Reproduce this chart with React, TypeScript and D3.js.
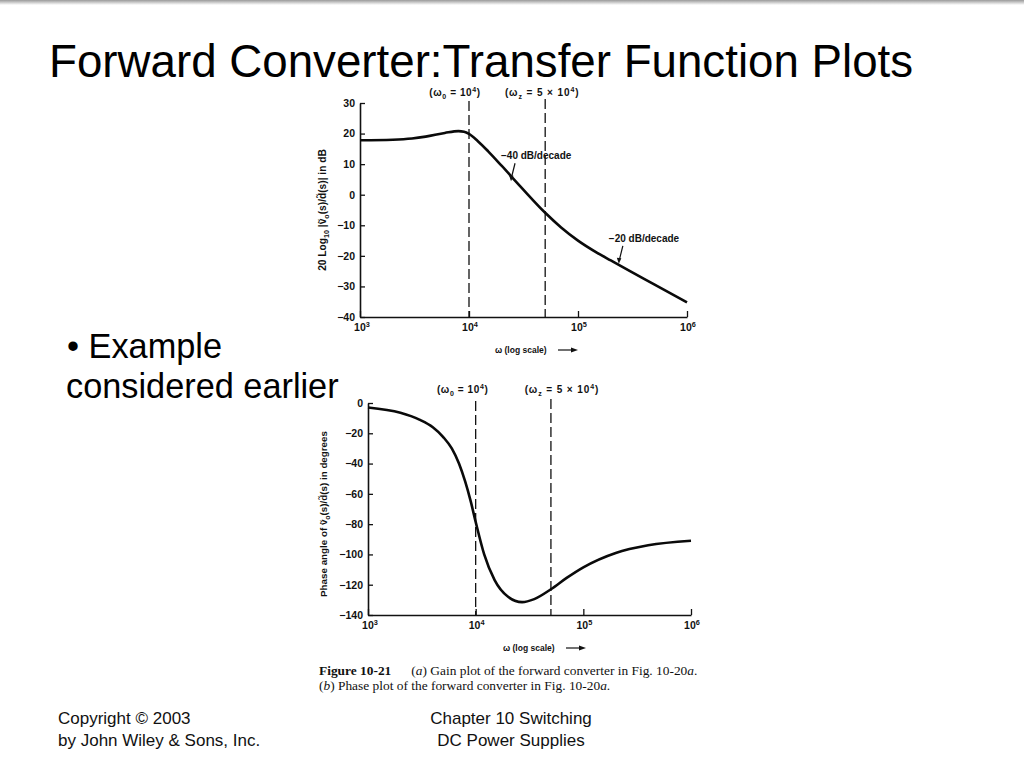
import { useEffect, useRef } from 'react';
import * as d3 from 'd3';

// Gain plot (a)
const GAIN_FREQ = [1e3, 2e3, 3e3, 4e3, 6e3, 8e3, 9e3, 1e4, 1.2e4, 1.5e4, 2e4, 3e4, 5e4, 7e4, 1e5, 1.5e5, 2e5, 3e5, 5e5, 1e6];
const GAIN_DB = [17.8, 18.0, 18.4, 19.0, 20.2, 20.8, 20.6, 19.9, 17.6, 14.2, 9.4, 2.5, -5.9, -10.7, -15.0, -19.0, -21.5, -25.0, -29.3, -35.2];

// Phase plot (b)
const PHASE_FREQ = [1e3, 2e3, 3e3, 4e3, 5e3, 6e3, 7e3, 8e3, 9e3, 1e4, 1.2e4, 1.5e4, 2e4, 2.7e4, 3.5e4, 5e4, 7e4, 1e5, 2e5, 4e5, 1e6];
const PHASE_DEG = [-3, -6.5, -11, -16, -22.5, -30, -40, -52, -65, -78.5, -100, -117, -128, -131.5, -129.5, -123, -115.5, -108.5, -99, -94, -91];

const GAIN_TICKS = [30, 20, 10, 0, -10, -20, -30, -40];
const PHASE_TICKS = [0, -20, -40, -60, -80, -100, -120, -140];
const DECADES = [1e3, 1e4, 1e5, 1e6];
const DECADE_EXP = ['3', '4', '5', '6'];

const OMEGA_0 = 1e4;
const OMEGA_Z = 5e4;

const SLOPE_LABELS = ['\u221240 dB/decade', '\u221220 dB/decade'];
const SLOPE_FREQ = [2.43e4, 2.37e5];
const SLOPE_DB = [4.4, -22.6];

type Part = [string, ('sub' | 'sup' | 'it' | 'b')?];

const FONT = 'Liberation Sans, Arial, sans-serif';
const SERIF = 'Liberation Serif, Times New Roman, serif';

// append tspans with sub/superscripts
const rich = (text: d3.Selection<SVGTextElement, unknown, null, undefined>, parts: Part[], size: number) => {
  let shift = 0;
  parts.forEach(([t, kind]) => {
    const ts = text.append('tspan').text(t);
    let target = 0;
    if (kind === 'sub') target = size * 0.3;
    if (kind === 'sup') target = -size * 0.4;
    if (target !== shift) ts.attr('dy', target - shift);
    shift = target;
    if (kind === 'sub' || kind === 'sup') ts.attr('font-size', size * 0.7);
    if (kind === 'it') ts.attr('font-style', 'italic');
    if (kind === 'b') ts.attr('font-weight', 'bold');
  });
};

const minus = (d: number) => (d < 0 ? `\u2212${-d}` : `${d}`);

const App = () => {
  const svgRef = useRef<SVGSVGElement>(null);

  useEffect(() => {
    if (!svgRef.current) return;
    const svg = d3.select(svgRef.current);
    svg.selectAll('*').remove();

    const width = 1024;
    const height = 759;
    svg.attr('width', width).attr('height', height);

    svg.append('rect').attr('width', width).attr('height', height).attr('fill', '#fff');

    // thin grey shadow at the top edge
    const grad = svg.append('defs').append('linearGradient').attr('id', 'topShade').attr('x1', 0).attr('x2', 0).attr('y1', 0).attr('y2', 1);
    grad.append('stop').attr('offset', '0%').attr('stop-color', '#9a9a9a');
    grad.append('stop').attr('offset', '100%').attr('stop-color', '#ffffff');
    svg.append('rect').attr('width', width).attr('height', 5).attr('fill', 'url(#topShade)');

    // slide title
    svg
      .append('text')
      .attr('x', 49)
      .attr('y', 77)
      .attr('font-family', FONT)
      .attr('font-size', 45.7)
      .attr('fill', '#000')
      .text('Forward Converter:Transfer Function Plots');

    // bullet
    svg.append('text').attr('x', 67).attr('y', 358).attr('font-family', FONT).attr('font-size', 34.3).text('\u2022 Example');
    svg.append('text').attr('x', 66).attr('y', 398).attr('font-family', FONT).attr('font-size', 34.3).text('considered earlier');

    // footer
    const foot = [
      { x: 58, anchor: 'start', lines: ['Copyright \u00a9 2003', 'by John Wiley & Sons, Inc.'] },
      { x: 511, anchor: 'middle', lines: ['Chapter 10 Switching', 'DC Power Supplies'] },
    ];
    foot.forEach((f) =>
      f.lines.forEach((l, i) =>
        svg
          .append('text')
          .attr('x', f.x)
          .attr('y', 724 + i * 22)
          .attr('text-anchor', f.anchor)
          .attr('font-family', FONT)
          .attr('font-size', 17)
          .attr('fill', '#111')
          .text(l),
      ),
    );

    type PanelOpts = {
      xRange: [number, number];
      yRange: [number, number];
      yDomain: [number, number];
      yTicks: number[];
      freq: number[];
      vals: number[];
      markerLabelY: number;
      markerTop: [number, number];
      labelShift: [number, number];
      yLabel: Part[];
      yLabelSize: number;
      yLabelX: number;
      yLabelY: number;
      xLabelX: number;
      xLabelY: number;
      xTickY: number;
    };

    const drawPanel = (o: PanelOpts) => {
      const x = d3.scaleLog().domain([1e3, 1e6]).range(o.xRange);
      const y = d3.scaleLinear().domain(o.yDomain).range(o.yRange);
      const g = svg.append('g').attr('font-family', FONT).attr('font-weight', 'bold').attr('fill', '#111');

      // y axis, ticks pointing inward
      const yAxis = g
        .append('g')
        .attr('transform', `translate(${o.xRange[0]},0)`)
        .call(d3.axisLeft(y).tickValues(o.yTicks).tickSizeInner(-5).tickSizeOuter(0).tickPadding(5).tickFormat((d) => minus(d as number)));
      yAxis.select('.domain').attr('stroke', '#111').attr('stroke-width', 1.6);
      yAxis.selectAll('.tick line').attr('stroke', '#111').attr('stroke-width', 1.3);
      yAxis.selectAll('text').attr('font-family', FONT).attr('font-size', 10.5).attr('font-weight', 'bold').attr('fill', '#111');

      // x axis, decade ticks pointing up
      const xAxis = g
        .append('g')
        .attr('transform', `translate(0,${o.yRange[0]})`)
        .call(d3.axisBottom(x).tickValues(DECADES).tickSizeInner(-6).tickSizeOuter(0).tickFormat(() => ''));
      xAxis.select('.domain').attr('stroke', '#111').attr('stroke-width', 1.6);
      xAxis.selectAll('.tick line').attr('stroke', '#111').attr('stroke-width', 1.3);

      DECADES.forEach((d, i) => {
        const t = g
          .append('text')
          .attr('x', x(d) + (i === 0 ? 2 : 1))
          .attr('y', o.xTickY)
          .attr('text-anchor', 'middle')
          .attr('font-size', 10.5);
        rich(t, [['10'], [DECADE_EXP[i], 'sup']], 10.5);
      });

      // dashed markers at ω0 and ωz
      [OMEGA_0, OMEGA_Z].forEach((w, i) => {
        g.append('line')
          .attr('x1', x(w))
          .attr('x2', x(w))
          .attr('y1', o.markerTop[i])
          .attr('y2', o.yRange[0])
          .attr('stroke', '#111')
          .attr('stroke-width', 1.3)
          .attr('stroke-dasharray', '10,4');
      });

      const m0 = g
        .append('text')
        .attr('x', x(OMEGA_0) + o.labelShift[0])
        .attr('y', o.markerLabelY)
        .attr('text-anchor', 'middle')
        .attr('font-size', 10)
        .attr('letter-spacing', 0.6);
      rich(m0, [['(\u03c9'], ['0', 'sub'], [' = 10'], ['4', 'sup'], [')']], 10);
      const mz = g
        .append('text')
        .attr('x', x(OMEGA_Z) + o.labelShift[1])
        .attr('y', o.markerLabelY)
        .attr('text-anchor', 'middle')
        .attr('font-size', 10)
        .attr('letter-spacing', 0.9);
      rich(mz, [['(\u03c9'], ['z', 'sub'], [' = 5 \u00d7 10'], ['4', 'sup'], [')']], 10);

      // the curve
      const line = d3
        .line<number>()
        .x((_, i) => x(o.freq[i]))
        .y((v) => y(v))
        .curve(d3.curveMonotoneX);
      g.append('path').attr('d', line(o.vals)).attr('fill', 'none').attr('stroke', '#0a0a0a').attr('stroke-width', 2.6);

      // axis titles
      const yl = g
        .append('text')
        .attr('transform', `translate(${o.yLabelX},${o.yLabelY}) rotate(-90)`)
        .attr('text-anchor', 'middle')
        .attr('font-size', o.yLabelSize);
      rich(yl, o.yLabel, o.yLabelSize);

      g.append('text')
        .attr('x', o.xLabelX)
        .attr('y', o.xLabelY)
        .attr('font-size', 8.5)
        .text('\u03c9  (log scale)');
      const ax = o.xLabelX + 63;
      g.append('line')
        .attr('x1', ax)
        .attr('x2', ax + 16)
        .attr('y1', o.xLabelY - 3)
        .attr('y2', o.xLabelY - 3)
        .attr('stroke', '#111')
        .attr('stroke-width', 1.2);
      g.append('path')
        .attr('d', `M${ax + 20},${o.xLabelY - 3} L${ax + 13},${o.xLabelY - 5.5} L${ax + 13},${o.xLabelY - 0.5} Z`)
        .attr('fill', '#111');

      return { x, y, g };
    };

    const top = drawPanel({
      xRange: [360, 687],
      yRange: [317, 103],
      yDomain: [-40, 30],
      yTicks: GAIN_TICKS,
      freq: GAIN_FREQ,
      vals: GAIN_DB,
      markerLabelY: 96,
      markerTop: [101, 99],
      labelShift: [-14, -3],
      yLabel: [['20 Log'], ['10', 'sub'], [' |v\u0303'], ['o', 'sub'], ['(s)/d\u0303(s)| in dB']],
      yLabelSize: 10.2,
      yLabelX: 326,
      yLabelY: 210,
      xLabelX: 495,
      xLabelY: 353,
      xTickY: 331,
    });

    // slope annotations with leader arrows
    SLOPE_LABELS.forEach((lab, i) => {
      const px = top.x(SLOPE_FREQ[i]);
      const py = top.y(SLOPE_DB[i]);
      const sx = px + 4;
      const sy = py - 18;
      top.g
        .append('text')
        .attr('x', px - 10)
        .attr('y', py - 22)
        .attr('font-size', 10)
        .text(lab);
      top.g.append('line').attr('x1', sx).attr('y1', sy).attr('x2', px + 0.5).attr('y2', py - 4).attr('stroke', '#111').attr('stroke-width', 1.2);
      top.g
        .append('path')
        .attr('d', `M${px},${py} L${px - 2},${py - 6} L${px + 2.5},${py - 5.5} Z`)
        .attr('fill', '#111');
    });

    drawPanel({
      xRange: [368, 691],
      yRange: [615, 403],
      yDomain: [-140, 0],
      yTicks: PHASE_TICKS,
      freq: PHASE_FREQ,
      vals: PHASE_DEG,
      markerLabelY: 393,
      markerTop: [401, 399],
      labelShift: [-13, 11],
      yLabel: [['Phase angle of v\u0303'], ['o', 'sub'], ['(s)/d\u0303(s) in degrees']],
      yLabelSize: 9.8,
      yLabelX: 327,
      yLabelY: 514,
      xLabelX: 503,
      xLabelY: 651,
      xTickY: 629,
    });

    // figure caption
    const capSize = 13.4;
    const c1 = svg.append('text').attr('x', 319).attr('y', 675).attr('font-family', SERIF).attr('font-size', capSize).attr('fill', '#111');
    rich(
      c1,
      [['Figure 10-21', 'b'], ['\u2003\u2002('], ['a', 'it'], [') Gain plot of the forward converter in Fig. 10-20'], ['a', 'it'], ['.']],
      capSize,
    );
    const c2 = svg.append('text').attr('x', 319).attr('y', 690).attr('font-family', SERIF).attr('font-size', capSize).attr('fill', '#111');
    rich(c2, [['('], ['b', 'it'], [') Phase plot of the forward converter in Fig. 10-20'], ['a', 'it'], ['.']], capSize);
  }, []);

  return <svg ref={svgRef} style={{ position: 'absolute', left: 0, top: 0, display: 'block' }} />;
};

export default App;
